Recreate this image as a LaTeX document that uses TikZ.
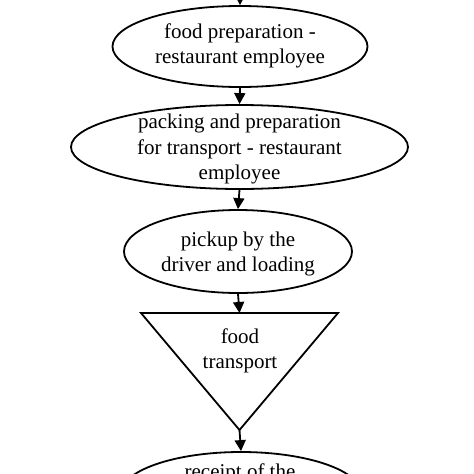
\documentclass[tikz,border=0pt]{standalone}
\usepackage{fontspec}
\setmainfont{Liberation Serif}
\usetikzlibrary{shapes.geometric,arrows.meta}
\begin{document}
\begin{tikzpicture}[x=1pt,y=-1pt,
  stage/.style={draw=black,line width=1.8pt,ellipse,inner sep=0pt},
  lbl/.style={align=center,font=\fontsize{21}{25.5}\selectfont,inner sep=0pt},
  flow/.style={line width=1.8pt,-{Triangle[length=11pt,width=11pt]}}]
\useasboundingbox (0,0) rectangle (474,474);
\clip (0,0) rectangle (474,474);
\fill[white] (0,0) rectangle (474,474);
% ellipses
\node[stage,minimum width=255pt,minimum height=81pt] (e1) at (240,46.5) {};
\node[lbl] (t1) at (240,46) {food preparation -\\restaurant employee};
\node[stage,minimum width=337pt,minimum height=84pt] (e2) at (239.5,147) {};
\node[lbl] (t2) at (239.5,149) {packing and preparation\\for transport - restaurant\\employee};
\node[stage,minimum width=228pt,minimum height=83pt] (e3) at (238,251.5) {};
\node[lbl] (t3) at (238,254) {pickup by the\\driver and loading};
% triangle
\coordinate (tl) at (141,313);
\coordinate (tr) at (338,313);
\coordinate (ttop) at (239.5,313);
\coordinate (tap) at (239.5,430);
\draw[line width=1.8pt,line join=miter] (tl) -- (tr) -- (tap) -- cycle;
\node[lbl] (t4) at (240,351) {food\\transport};
% last ellipse (cut off)
\node[stage,minimum width=241pt,minimum height=84pt] (e4) at (241,494) {};
\node[lbl,anchor=base] (t5) at (240,478) {receipt of the};
% connectors
\coordinate (top) at (240,-2);
\draw[flow] (top) -- (e1.north);
\draw[flow] (e1.south) -- (e2.north);
\draw[flow] (e2.south) -- (e3.north);
\draw[flow] (e3.south) -- (ttop);
\draw[flow] (tap) -- (e4.north);
\end{tikzpicture}
\end{document}
